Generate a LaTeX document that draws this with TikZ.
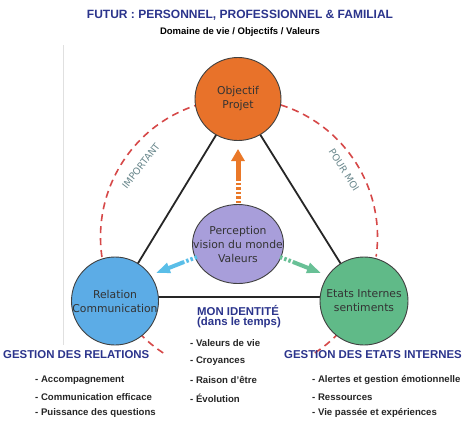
\documentclass[tikz,border=0pt]{standalone}
\usepackage{fontspec}
\setmainfont{Liberation Sans}
\newfontfamily\circfont{DejaVu Sans}
\usetikzlibrary{shapes.geometric,arrows.meta,backgrounds}
\definecolor{titleblue}{RGB}{43,52,140}
\definecolor{orfill}{RGB}{232,114,42}
\definecolor{pufill}{RGB}{168,158,218}
\definecolor{blfill}{RGB}{92,172,230}
\definecolor{grfill}{RGB}{96,186,136}
\definecolor{arcred}{RGB}{214,72,72}
\definecolor{arrorange}{RGB}{234,120,40}
\definecolor{arrblue}{RGB}{90,190,232}
\definecolor{arrgreen}{RGB}{104,192,150}
\definecolor{labgray}{RGB}{105,135,140}
\tikzset{
  bubble/.style={ellipse, draw=black!75, line width=0.9pt, inner sep=0pt},
  bubtxt/.style={align=center, inner sep=0pt,
    font=\circfont\fontsize{10.8}{14}\selectfont, text=black!80},
  tri/.style={line width=1.8pt, draw=black!85},
  reddash/.style={draw=arcred, line width=1.6pt, dash pattern=on 7pt off 5pt},
  headtxt/.style={font=\bfseries\fontsize{11.4}{13}\selectfont, text=titleblue, inner sep=0pt},
  itemtxt/.style={font=\bfseries\fontsize{9.6}{11}\selectfont, text=black!85, anchor=west, inner sep=0pt},
  arclab/.style={font=\circfont\fontsize{9.5}{11}\selectfont, text=labgray, inner sep=0pt},
  stripe/.style={line width=5pt, dash pattern=on 2.5pt off 2pt},
}
\begin{document}
\begin{tikzpicture}[x=1pt,y=-1pt]
\useasboundingbox (0,0) rectangle (469,424);

% titles
\node[headtxt, font=\bfseries\fontsize{12}{14}\selectfont] (title) at (240,15) {FUTUR : PERSONNEL, PROFESSIONNEL \& FAMILIAL};
\node[font=\bfseries\fontsize{9.5}{11}\selectfont, text=black, inner sep=0pt] (sub) at (240,32) {Domaine de vie / Objectifs / Valeurs};

% circles
\node[bubble, fill=orfill, minimum width=86pt, minimum height=83pt] (obj) at (238,99) {};
\node[bubble, fill=pufill, minimum width=91pt, minimum height=79pt] (perc) at (238,244) {};
\node[bubble, fill=blfill, minimum width=87pt, minimum height=88pt] (rel) at (115,301) {};
\node[bubble, fill=grfill, minimum width=88pt, minimum height=88pt] (etat) at (364,301) {};
\node[bubtxt] (objt) at (obj.center) {Objectif\\Projet};
\node[bubtxt] (perct) at (perc.center) {Perception\\vision du monde\\Valeurs};
\node[bubtxt] (relt) at (rel.center) {Relation\\Communication};
\node[bubtxt] (etatt) at (etat.center) {Etats Internes\\sentiments};

\coordinate (C) at (239,237);
\begin{scope}[on background layer]
  \fill[white] (0,0) rectangle (469,424);
  \draw[black!12, line width=0.8pt] (63,45) -- (63,345);
  \draw[tri] (obj.center) -- (rel.center);
  \draw[tri] (obj.center) -- (etat.center);
  \draw[tri] (rel.center) ++(0,-4) coordinate (rl) -- (etat.center |- rl);
  \draw[reddash] (C) ++(171.7:138.5) arc[start angle=171.7, end angle=252, radius=138.5];
  \draw[reddash] (C) ++(287.6:138.5) arc[start angle=287.6, end angle=368.1, radius=138.5];
  \draw[reddash] (C) ++(136:138.5) arc[start angle=136, end angle=122, radius=138.5];
  \draw[reddash] (C) ++(44:138.5) arc[start angle=44, end angle=58, radius=138.5];
\end{scope}

% arc labels
\node[arclab, rotate=52] (imp) at (141,166) {IMPORTANT};
\node[arclab, rotate=-58] (pour) at (344,170) {POUR MOI};

% arrows
\coordinate (oa1) at (238,203);
\coordinate (oa2) at (238,179);
\coordinate (oa3) at (238,149);
\draw[stripe, draw=arrorange] (oa1) -- (oa2);
\draw[line width=5pt, draw=arrorange, -{Triangle[width=13pt,length=12pt]}] (oa2) -- (oa3);

\coordinate (ba1) at (197,257);
\coordinate (ba2) at (184,262);
\coordinate (ba3) at (156,273);
\draw[stripe, line width=4pt, draw=arrblue] (ba1) -- (ba2);
\draw[line width=4pt, draw=arrblue, -{Triangle[width=10pt,length=14pt]}] (ba2) -- (ba3);

\coordinate (ga1) at (280,257);
\coordinate (ga2) at (293,262);
\coordinate (ga3) at (321,273);
\draw[stripe, line width=4pt, draw=arrgreen] (ga1) -- (ga2);
\draw[line width=4pt, draw=arrgreen, -{Triangle[width=10pt,length=14pt]}] (ga2) -- (ga3);

% left block
\node[headtxt, anchor=west] (gr) at (3,355) {GESTION DES RELATIONS};
\node[itemtxt] (gr1) at (35,380) {- Accompagnement};
\node[itemtxt] (gr2) at (35,397) {- Communication efficace};
\node[itemtxt] (gr3) at (35,413) {- Puissance des questions};

% middle block
\node[headtxt, anchor=west] (id1) at (197,310) {MON IDENTITÉ};
\node[headtxt, anchor=west] (id2) at (197,323) {(dans le temps)};
\node[itemtxt] (id3) at (190,343) {- Valeurs de vie};
\node[itemtxt] (id4) at (190,361) {- Croyances};
\node[itemtxt] (id5) at (190,380) {- Raison d'être};
\node[itemtxt] (id6) at (190,398) {- Évolution};

% right block
\node[headtxt, anchor=west] (ge) at (284,355) {GESTION DES ETATS INTERNES};
\node[itemtxt] (ge1) at (312,380) {- Alertes et gestion émotionnelle};
\node[itemtxt] (ge2) at (312,397) {- Ressources};
\node[itemtxt] (ge3) at (312,413) {- Vie passée et expériences};
\end{tikzpicture}
\end{document}
